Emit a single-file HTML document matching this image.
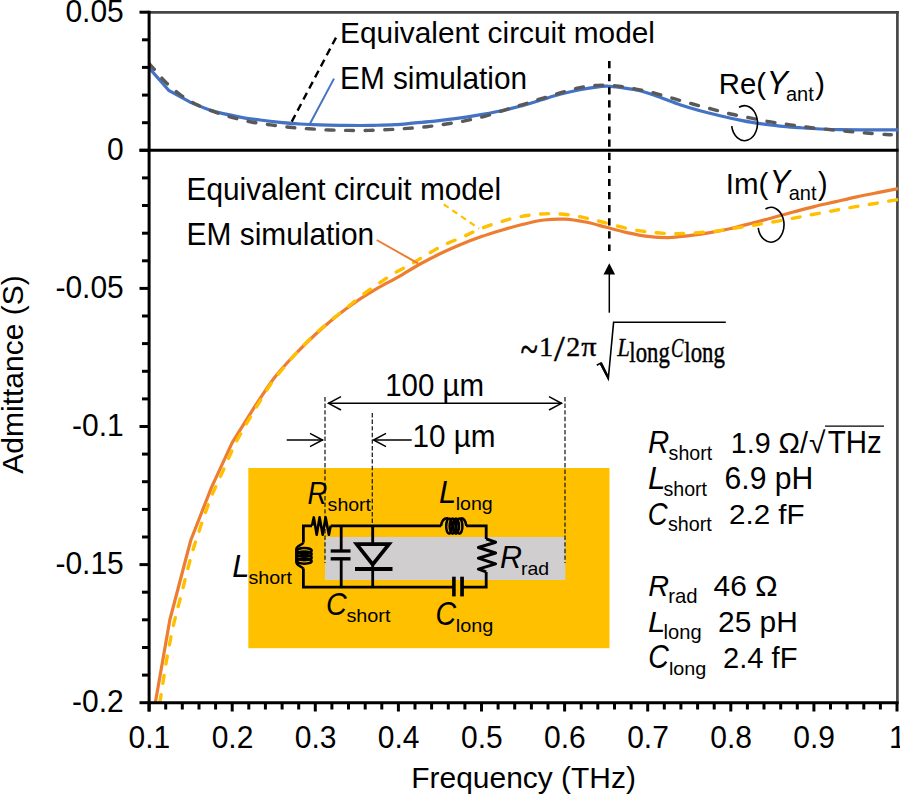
<!DOCTYPE html><html><head><meta charset="utf-8"><style>html,body{margin:0;padding:0;background:#fff;width:900px;height:794px;overflow:hidden}svg{display:block}text{font-family:"Liberation Sans", sans-serif}</style></head><body>
<svg width="900" height="794" viewBox="0 0 900 794">
<defs><clipPath id="pa"><rect x="149" y="12" width="749" height="691"/></clipPath></defs>
<rect x="248.3" y="468" width="361.2" height="180.2" fill="#FFC000"/>
<rect x="325" y="537" width="240.3" height="43" fill="#D0CECE"/>
<line x1="149" y1="12.3" x2="898.7" y2="12.3" stroke="#464646" stroke-width="2.7"/>
<line x1="897.4" y1="11" x2="897.4" y2="703" stroke="#464646" stroke-width="2.7"/>
<g clip-path="url(#pa)" fill="none" stroke-linejoin="round">
<path d="M149.1,738.4 L169.8,620.0 L190.7,540.5 L211.4,487.6 L232.2,442.6 L253.0,409.3 C256.5,404.2 266.9,387.6 273.8,378.5 C280.7,369.4 287.6,362.3 294.5,355.0 C301.4,347.7 308.4,340.9 315.3,334.5 C322.2,328.1 329.2,322.1 336.1,316.5 C343.0,310.9 349.9,305.9 356.8,301.2 C363.7,296.5 370.7,292.3 377.6,288.2 C384.5,284.1 391.5,280.8 398.4,276.8 C405.3,272.9 412.3,268.3 419.2,264.5 C426.1,260.7 433.1,257.1 440.0,253.8 C446.9,250.5 453.8,247.5 460.7,244.6 C467.6,241.7 474.6,239.0 481.5,236.6 C488.4,234.2 495.4,232.1 502.3,230.0 C509.2,227.9 516.2,226.0 523.1,224.3 C530.0,222.6 537.0,220.8 543.9,220.0 C550.8,219.2 557.8,218.9 564.7,219.2 C571.6,219.5 578.5,220.7 585.4,222.0 C592.3,223.3 599.3,225.5 606.2,227.3 C613.1,229.1 620.1,231.1 627.0,232.6 C633.9,234.1 640.9,235.6 647.8,236.4 C654.7,237.2 661.7,237.7 668.6,237.6 C675.5,237.5 682.5,236.4 689.4,235.6 C696.3,234.8 703.2,233.9 710.1,232.7 C717.0,231.5 724.0,230.1 730.9,228.5 C737.8,226.9 744.8,225.0 751.7,223.2 C758.6,221.4 765.6,219.6 772.5,217.7 C779.4,215.8 786.4,213.8 793.3,212.0 C800.2,210.2 807.2,208.3 814.1,206.6 C821.0,204.9 828.0,203.5 834.9,201.9 C841.8,200.3 848.7,198.6 855.6,197.1 C862.5,195.6 869.2,194.3 876.4,192.9 C883.6,191.5 895.2,189.2 899.0,188.5" stroke="#ED7D31" stroke-width="3.2"/>
<path d="M156.5,722.0 C157.1,718.8 158.8,708.9 159.8,702.5 C160.9,696.1 161.8,690.1 162.8,683.7 C163.8,677.3 164.9,670.0 165.9,664.0 C166.9,658.0 167.7,653.5 168.9,647.4 C170.1,641.3 171.5,633.8 172.9,627.5 C174.3,621.2 175.9,615.6 177.4,609.5 C178.9,603.4 180.6,597.3 182.2,591.0 C183.8,584.7 185.4,578.0 187.1,571.6 C188.8,565.2 190.3,558.8 192.1,552.7 C193.9,546.6 195.6,541.7 197.8,535.0 C200.0,528.3 202.8,519.6 205.3,512.7 C207.8,505.8 210.3,499.1 212.6,493.6 C214.9,488.1 216.7,484.9 219.1,479.5 C221.5,474.1 224.5,467.4 227.2,461.4 C229.9,455.4 232.3,449.5 235.2,443.7 C238.1,437.9 241.2,432.8 244.8,426.6 C248.4,420.4 252.3,413.7 256.6,406.7 C260.9,399.7 265.7,391.4 270.5,384.5 C275.3,377.6 280.5,371.5 285.5,365.5 C290.5,359.5 295.5,353.8 300.5,348.5 C305.5,343.2 310.6,338.3 315.6,333.6 C320.6,328.9 325.7,324.7 330.7,320.5 C335.7,316.3 340.6,312.7 345.8,308.5 C351.0,304.3 356.8,299.3 362.0,295.3 C367.2,291.3 371.8,288.2 377.0,284.7 C382.2,281.1 387.5,277.3 393.0,274.0 C398.5,270.7 404.3,267.9 410.0,264.7 C415.7,261.4 421.3,257.8 427.0,254.5 C432.7,251.2 438.1,247.9 444.0,245.0 C449.9,242.1 456.7,239.7 462.7,237.0 C468.7,234.3 474.0,231.4 480.0,229.0 C486.0,226.6 492.5,224.2 498.7,222.3 C504.9,220.4 511.0,218.6 517.3,217.3 C523.6,216.0 530.2,214.9 536.7,214.3 C543.2,213.7 549.5,213.4 556.0,213.7 C562.5,214.0 569.5,214.9 576.0,216.0 C582.5,217.1 588.5,218.5 594.7,220.0 C600.9,221.5 607.0,223.4 613.3,225.0 C619.6,226.6 626.2,228.5 632.7,229.7 C639.2,230.9 645.6,231.6 652.0,232.3 C658.4,233.0 665.8,233.5 671.3,233.7 C676.8,233.9 678.7,233.7 685.3,233.4 C691.9,233.1 703.4,232.4 710.7,231.7 C718.0,231.0 722.9,230.0 729.3,229.0 C735.7,228.0 742.7,227.0 749.3,225.9 C755.9,224.8 761.9,223.9 768.7,222.7 C775.5,221.5 783.6,220.1 790.0,218.9 C796.4,217.7 801.0,216.7 807.1,215.5 C813.2,214.3 820.3,213.2 826.7,212.0 C833.1,210.8 839.2,209.6 845.6,208.4 C852.0,207.2 858.7,206.2 865.2,205.1 C871.7,204.0 879.1,202.8 884.7,201.8 C890.3,200.9 896.6,199.8 899.0,199.4" stroke="#FFC000" stroke-width="3.4" stroke-dasharray="8,11.6" stroke-linecap="round"/>
<path d="M149.4,68.2 L169.1,90.7 L190.2,102.2 C193.8,103.6 203.4,108.1 211.7,110.6 C220.0,113.1 231.9,115.5 240.0,117.1 C248.1,118.7 253.3,119.1 260.0,120.0 C266.7,120.9 273.3,121.7 280.0,122.4 C286.7,123.1 293.3,123.6 300.0,124.0 C306.7,124.4 313.3,124.7 320.0,124.9 C326.7,125.1 333.3,125.2 340.0,125.3 C346.7,125.4 354.2,125.5 360.0,125.5 C365.8,125.5 369.2,125.4 375.0,125.3 C380.8,125.2 388.3,125.1 395.0,124.7 C401.7,124.3 408.3,123.5 415.0,122.9 C421.7,122.3 428.3,121.8 435.0,121.1 C441.7,120.4 448.3,119.6 455.0,118.7 C461.7,117.8 467.5,117.0 475.0,115.7 C482.5,114.4 492.5,112.6 500.0,111.0 C507.5,109.4 513.3,108.1 520.0,106.3 C526.7,104.5 533.3,102.3 540.0,100.3 C546.7,98.3 553.3,96.1 560.0,94.3 C566.7,92.5 573.3,91.0 580.0,89.7 C586.7,88.4 595.3,87.2 600.0,86.6 C604.7,86.0 604.7,85.9 608.0,86.1 C611.3,86.2 614.7,86.7 620.0,87.5 C625.3,88.3 633.3,89.1 640.0,90.7 C646.7,92.3 653.3,95.0 660.0,97.3 C666.7,99.6 673.3,102.5 680.0,104.7 C686.7,106.9 693.3,108.9 700.0,110.7 C706.7,112.5 713.3,114.1 720.0,115.7 C726.7,117.3 733.3,118.8 740.0,120.1 C746.7,121.4 753.3,122.7 760.0,123.7 C766.7,124.7 773.3,125.4 780.0,126.1 C786.7,126.8 793.3,127.2 800.0,127.7 C806.7,128.2 813.3,128.7 820.0,129.0 C826.7,129.3 833.3,129.6 840.0,129.7 C846.7,129.8 850.2,129.8 860.0,129.8 C869.8,129.8 892.5,129.8 899.0,129.8" stroke="#4472C4" stroke-width="3.2"/>
<path d="M149.0,63.5 C150.0,64.6 152.3,67.0 155.0,70.0 C157.7,73.0 160.9,77.5 165.0,81.5 C169.1,85.5 174.2,90.2 179.4,94.0 C184.6,97.8 190.2,101.3 196.0,104.3 C201.8,107.2 207.8,109.5 213.9,111.7 C220.0,113.9 226.6,115.9 232.8,117.6 C239.0,119.3 245.0,120.8 251.3,122.0 C257.6,123.2 264.2,124.0 270.7,124.9 C277.1,125.8 283.6,126.6 290.0,127.3 C296.4,128.0 302.8,128.4 309.3,128.8 C315.9,129.2 322.7,129.7 329.3,130.0 C335.9,130.3 342.2,130.3 348.7,130.4 C355.2,130.5 361.7,130.5 368.3,130.4 C374.9,130.3 381.7,129.9 388.3,129.6 C394.9,129.3 401.2,128.9 407.7,128.4 C414.1,127.9 420.6,127.4 427.0,126.7 C433.4,126.0 439.9,125.0 446.3,124.0 C452.8,123.0 459.3,122.0 465.7,120.7 C472.1,119.4 478.3,118.0 484.7,116.3 C491.1,114.6 497.7,112.2 504.0,110.3 C510.3,108.3 516.5,106.5 522.7,104.6 C528.9,102.7 535.1,100.6 541.3,98.7 C547.5,96.8 553.8,94.8 560.0,93.0 C566.2,91.2 572.5,89.2 578.7,87.9 C584.9,86.6 591.1,85.7 597.3,85.4 C603.5,85.1 609.5,85.3 616.0,85.9 C622.5,86.5 629.5,87.9 636.0,89.1 C642.5,90.3 649.0,91.7 655.3,93.3 C661.6,94.9 667.8,96.9 674.0,98.7 C680.2,100.5 686.4,102.3 692.7,104.0 C699.0,105.7 705.7,107.4 712.0,109.1 C718.3,110.8 724.4,112.5 730.7,114.0 C737.0,115.5 743.6,116.6 750.0,117.9 C756.4,119.2 762.8,120.6 769.3,121.7 C775.8,122.8 782.2,123.7 788.7,124.6 C795.2,125.5 801.6,126.5 808.0,127.3 C814.4,128.1 820.8,128.7 827.3,129.4 C833.8,130.1 840.2,130.7 846.7,131.3 C853.2,131.9 859.8,132.5 866.3,133.0 C872.8,133.5 881.8,134.2 886.0,134.5 C890.2,134.8 890.4,134.8 891.3,134.8" stroke="#595959" stroke-width="3.4" stroke-dasharray="8,11.6" stroke-linecap="round"/>
</g>
<g stroke="#000" stroke-width="3">
<line x1="149.1" y1="10.7" x2="149.1" y2="711.5"/>
<line x1="139.5" y1="150.3" x2="898.5" y2="150.3"/>
<line x1="147.6" y1="702.7" x2="898.5" y2="702.7"/>
<line x1="139.5" y1="12.2" x2="149" y2="12.2"/>
<line x1="142.0" y1="39.8" x2="149" y2="39.8"/>
<line x1="142.0" y1="67.4" x2="149" y2="67.4"/>
<line x1="142.0" y1="95.1" x2="149" y2="95.1"/>
<line x1="142.0" y1="122.7" x2="149" y2="122.7"/>
<line x1="139.5" y1="150.3" x2="149" y2="150.3"/>
<line x1="142.0" y1="177.9" x2="149" y2="177.9"/>
<line x1="142.0" y1="205.5" x2="149" y2="205.5"/>
<line x1="142.0" y1="233.2" x2="149" y2="233.2"/>
<line x1="142.0" y1="260.8" x2="149" y2="260.8"/>
<line x1="139.5" y1="288.4" x2="149" y2="288.4"/>
<line x1="142.0" y1="316.0" x2="149" y2="316.0"/>
<line x1="142.0" y1="343.6" x2="149" y2="343.6"/>
<line x1="142.0" y1="371.3" x2="149" y2="371.3"/>
<line x1="142.0" y1="398.9" x2="149" y2="398.9"/>
<line x1="139.5" y1="426.5" x2="149" y2="426.5"/>
<line x1="142.0" y1="454.1" x2="149" y2="454.1"/>
<line x1="142.0" y1="481.7" x2="149" y2="481.7"/>
<line x1="142.0" y1="509.4" x2="149" y2="509.4"/>
<line x1="142.0" y1="537.0" x2="149" y2="537.0"/>
<line x1="139.5" y1="564.6" x2="149" y2="564.6"/>
<line x1="142.0" y1="592.2" x2="149" y2="592.2"/>
<line x1="142.0" y1="619.8" x2="149" y2="619.8"/>
<line x1="142.0" y1="647.5" x2="149" y2="647.5"/>
<line x1="142.0" y1="675.1" x2="149" y2="675.1"/>
<line x1="139.5" y1="702.7" x2="149" y2="702.7"/>
<line x1="149.1" y1="702" x2="149.1" y2="711.5"/>
<line x1="165.7" y1="702" x2="165.7" y2="709.5"/>
<line x1="182.3" y1="702" x2="182.3" y2="709.5"/>
<line x1="199.0" y1="702" x2="199.0" y2="709.5"/>
<line x1="215.6" y1="702" x2="215.6" y2="709.5"/>
<line x1="232.2" y1="702" x2="232.2" y2="711.5"/>
<line x1="248.8" y1="702" x2="248.8" y2="709.5"/>
<line x1="265.4" y1="702" x2="265.4" y2="709.5"/>
<line x1="282.1" y1="702" x2="282.1" y2="709.5"/>
<line x1="298.7" y1="702" x2="298.7" y2="709.5"/>
<line x1="315.3" y1="702" x2="315.3" y2="711.5"/>
<line x1="331.9" y1="702" x2="331.9" y2="709.5"/>
<line x1="348.5" y1="702" x2="348.5" y2="709.5"/>
<line x1="365.2" y1="702" x2="365.2" y2="709.5"/>
<line x1="381.8" y1="702" x2="381.8" y2="709.5"/>
<line x1="398.4" y1="702" x2="398.4" y2="711.5"/>
<line x1="415.0" y1="702" x2="415.0" y2="709.5"/>
<line x1="431.6" y1="702" x2="431.6" y2="709.5"/>
<line x1="448.3" y1="702" x2="448.3" y2="709.5"/>
<line x1="464.9" y1="702" x2="464.9" y2="709.5"/>
<line x1="481.5" y1="702" x2="481.5" y2="711.5"/>
<line x1="498.1" y1="702" x2="498.1" y2="709.5"/>
<line x1="514.7" y1="702" x2="514.7" y2="709.5"/>
<line x1="531.4" y1="702" x2="531.4" y2="709.5"/>
<line x1="548.0" y1="702" x2="548.0" y2="709.5"/>
<line x1="564.6" y1="702" x2="564.6" y2="711.5"/>
<line x1="581.2" y1="702" x2="581.2" y2="709.5"/>
<line x1="597.8" y1="702" x2="597.8" y2="709.5"/>
<line x1="614.5" y1="702" x2="614.5" y2="709.5"/>
<line x1="631.1" y1="702" x2="631.1" y2="709.5"/>
<line x1="647.7" y1="702" x2="647.7" y2="711.5"/>
<line x1="664.3" y1="702" x2="664.3" y2="709.5"/>
<line x1="680.9" y1="702" x2="680.9" y2="709.5"/>
<line x1="697.6" y1="702" x2="697.6" y2="709.5"/>
<line x1="714.2" y1="702" x2="714.2" y2="709.5"/>
<line x1="730.8" y1="702" x2="730.8" y2="711.5"/>
<line x1="747.4" y1="702" x2="747.4" y2="709.5"/>
<line x1="764.0" y1="702" x2="764.0" y2="709.5"/>
<line x1="780.7" y1="702" x2="780.7" y2="709.5"/>
<line x1="797.3" y1="702" x2="797.3" y2="709.5"/>
<line x1="813.9" y1="702" x2="813.9" y2="711.5"/>
<line x1="830.5" y1="702" x2="830.5" y2="709.5"/>
<line x1="847.1" y1="702" x2="847.1" y2="709.5"/>
<line x1="863.8" y1="702" x2="863.8" y2="709.5"/>
<line x1="880.4" y1="702" x2="880.4" y2="709.5"/>
<line x1="897.0" y1="702" x2="897.0" y2="711.5"/>
</g>
<g font-size="30" fill="#000">
<text transform="translate(123.8,21.8) scale(1,1.05)" text-anchor="end">0.05</text>
<text transform="translate(123.8,159.9) scale(1,1.05)" text-anchor="end">0</text>
<text transform="translate(123.8,298.0) scale(1,1.05)" text-anchor="end">-0.05</text>
<text transform="translate(123.8,436.1) scale(1,1.05)" text-anchor="end">-0.1</text>
<text transform="translate(123.8,574.2) scale(1,1.05)" text-anchor="end">-0.15</text>
<text transform="translate(123.8,712.3) scale(1,1.05)" text-anchor="end">-0.2</text>
<text transform="translate(149.4,747.8) scale(1,1.05)" text-anchor="middle">0.1</text>
<text transform="translate(232.5,747.8) scale(1,1.05)" text-anchor="middle">0.2</text>
<text transform="translate(315.6,747.8) scale(1,1.05)" text-anchor="middle">0.3</text>
<text transform="translate(398.7,747.8) scale(1,1.05)" text-anchor="middle">0.4</text>
<text transform="translate(481.8,747.8) scale(1,1.05)" text-anchor="middle">0.5</text>
<text transform="translate(564.9,747.8) scale(1,1.05)" text-anchor="middle">0.6</text>
<text transform="translate(648.0,747.8) scale(1,1.05)" text-anchor="middle">0.7</text>
<text transform="translate(731.1,747.8) scale(1,1.05)" text-anchor="middle">0.8</text>
<text transform="translate(814.2,747.8) scale(1,1.05)" text-anchor="middle">0.9</text>
<text transform="translate(897.3,747.8) scale(1,1.05)" text-anchor="middle">1</text>
<text transform="translate(22.6,473.7) rotate(-90)">Admittance (S)</text>
</g>
<g font-size="30" fill="#000">
<text transform="matrix(0.9939,0,0,0.9909,340.11,42.9)" style="font-family:'Liberation Sans';font-style:normal;font-size:30px" fill="#000">Equivalent circuit model</text>
<text transform="matrix(0.9935,0,0,1.0182,340.01,88.8)" style="font-family:'Liberation Sans';font-style:normal;font-size:30px" fill="#000">EM simulation</text>
<text transform="matrix(0.993,0,0,1.0227,186.61,199.8)" style="font-family:'Liberation Sans';font-style:normal;font-size:30px" fill="#000">Equivalent circuit model</text>
<text transform="matrix(0.9962,0,0,1.0318,186.61,245.4)" style="font-family:'Liberation Sans';font-style:normal;font-size:30px" fill="#000">EM simulation</text>
<text transform="matrix(0.9986,0,0,1.0045,411.3,787.5)" style="font-family:'Liberation Sans';font-style:normal;font-size:30px" fill="#000">Frequency (THz)</text>
</g>
<line x1="336" y1="37.6" x2="289.6" y2="125.8" stroke="#000" stroke-width="2.4" stroke-dasharray="7.5,5"/>
<line x1="334" y1="78.6" x2="309.8" y2="124" stroke="#4472C4" stroke-width="2"/>
<line x1="443.7" y1="204.3" x2="479.1" y2="228.6" stroke="#FFC000" stroke-width="2.2" stroke-dasharray="6,4.5"/>
<line x1="376.7" y1="240" x2="418" y2="263.3" stroke="#ED7D31" stroke-width="2"/>
<g font-size="30" fill="#000">
<text transform="matrix(0.9783,0,0,1.0107,718.74,93.94)" style="font-family:'Liberation Sans';font-style:normal;font-size:30px" fill="#000">Re(</text>
<text transform="matrix(1.0526,0,0,1.1,766.84,93.7)" style="font-family:'Liberation Sans';font-style:italic;font-size:30px" fill="#000">Y</text>
<text transform="matrix(1.0,0,0,1.0538,786.0,101)" style="font-family:'Liberation Sans';font-style:normal;font-size:20px" fill="#000">ant</text>
<text transform="matrix(1.0,0,0,1.0107,815.0,93.94)" style="font-family:'Liberation Sans';font-style:normal;font-size:30px" fill="#000">)</text>
<text transform="matrix(0.9825,0,0,1.0143,725.75,193.61)" style="font-family:'Liberation Sans';font-style:normal;font-size:30px" fill="#000">Im(</text>
<text transform="matrix(1.0158,0,0,1.1,769.65,193.3)" style="font-family:'Liberation Sans';font-style:italic;font-size:30px" fill="#000">Y</text>
<text transform="matrix(1.0,0,0,1.0231,788.7,200.3)" style="font-family:'Liberation Sans';font-style:normal;font-size:20px" fill="#000">ant</text>
<text transform="matrix(0.9571,0,0,1.025,818.04,193.55)" style="font-family:'Liberation Sans';font-style:normal;font-size:30px" fill="#000">)</text>
</g>
<path d="M739.0,107.3 A13.0,17.5 0 1 1 731.7,126.2" fill="none" stroke="#000" stroke-width="1.6"/>
<path d="M765.5,209.0 A13.0,17.4 0 1 1 758.2,227.8" fill="none" stroke="#000" stroke-width="1.6"/>
<line x1="609.3" y1="61" x2="609.3" y2="251" stroke="#000" stroke-width="2.6" stroke-dasharray="7.2,5.9"/>
<line x1="609.3" y1="312.7" x2="609.3" y2="272" stroke="#000" stroke-width="1.5"/>
<path d="M609.3,263.3 L603.5,274.5 L615.1,274.5 Z" fill="#000"/>
<g stroke="#000" stroke-width="0.35">
<text transform="matrix(1.1923,0,0,1.6,520.41,362.6)" style="font-family:'Liberation Serif';font-style:normal;font-size:27px" fill="#000">~</text>
<text transform="matrix(1.05,0,0,1.0111,539.1,356.4)" style="font-family:'Liberation Serif';font-style:normal;font-size:27px" fill="#000">1</text>
<text transform="matrix(1.425,0,0,1.3167,554.0,361.4)" style="font-family:'Liberation Serif';font-style:normal;font-size:27px" fill="#000">/</text>
<text transform="matrix(1.0364,0,0,1.0111,566.16,356.4)" style="font-family:'Liberation Serif';font-style:normal;font-size:27px" fill="#000">2</text>
<text transform="matrix(1.1231,0,0,0.9769,581.3,356.4)" style="font-family:'Liberation Serif';font-style:normal;font-size:27px" fill="#000">π</text>
<text transform="matrix(0.8429,0,0,0.9444,617.2,356.2)" style="font-family:'Liberation Serif';font-style:italic;font-size:27px" fill="#000">L</text>
<text transform="matrix(1.0342,0,0,1.3571,629.37,361.5)" style="font-family:'Liberation Serif';font-style:normal;font-size:22px" fill="#000">long</text>
<text transform="matrix(0.6941,0,0,1.0,671.01,356.5)" style="font-family:'Liberation Serif';font-style:italic;font-size:27px" fill="#000">C</text>
<text transform="matrix(1.0368,0,0,1.3571,684.36,361.5)" style="font-family:'Liberation Serif';font-style:normal;font-size:22px" fill="#000">long</text>
</g>
<path d="M596.8,365.2 L600.3,363.3 L608.3,378.8 L613.6,322.3 L725.8,322.3" fill="none" stroke="#000" stroke-width="1.6" stroke-linejoin="miter"/>
<path d="M599.4,363.2 L601.8,362 L609,376.5 L608,379.5 Z" fill="#000"/>
<g stroke="#222" stroke-width="1.3" stroke-dasharray="4.4,2.2">
<line x1="325" y1="397" x2="325" y2="563"/>
<line x1="372.3" y1="413" x2="372.3" y2="540"/>
<line x1="565" y1="397" x2="565" y2="563"/>
</g>
<g stroke="#000" stroke-width="1.5" fill="none">
<line x1="328" y1="403.3" x2="562" y2="403.3"/>
<polyline points="341,396.7 328.5,403.3 341,410"/>
<polyline points="549,396.7 561.5,403.3 549,410"/>
<line x1="286.7" y1="440" x2="323" y2="440"/>
<polyline points="310,433.3 322.5,440 310,446.7"/>
<line x1="374" y1="440" x2="411.7" y2="440"/>
<polyline points="386,433.3 373.5,440 386,446.7"/>
</g>
<g font-size="30" fill="#000">
<text transform="matrix(0.9825,0,0,1.07,385.14,396.3)" style="font-family:'Liberation Sans';font-style:normal;font-size:30px" fill="#000">100 µm</text>
<text transform="matrix(0.99,0,0,1.07,412.42,446.7)" style="font-family:'Liberation Sans';font-style:normal;font-size:30px" fill="#000">10 µm</text>
</g>
<g stroke="#000" stroke-width="2.8" fill="none" stroke-linejoin="miter" stroke-linecap="butt">
<polyline points="312,525.8 303.4,525.8 303.4,542.6"/>
<polyline points="303.4,568.4 303.4,587.2 453,587.2"/>
<line x1="330.7" y1="525.8" x2="441.2" y2="525.8"/>
<polyline points="466.1,525.8 486.2,525.8 486.2,538.9"/>
<polyline points="486.2,571.9 486.2,587.2 462,587.2"/>
<polyline points="312.0,525.8 313.8,517.4 316.7,534.8 319.6,517.4 322.7,534.8 325.6,517.4 328.9,534.8 330.7,525.8" stroke-width="2.6" stroke-linejoin="round"/>
<polyline points="486.2,538.9 495.6,542.2 478.4,547.5 495.6,553.0 478.4,558.2 495.6,563.9 478.4,569.1 486.2,571.9" stroke-width="3" stroke-linejoin="round"/>
<line x1="341.2" y1="525.8" x2="341.2" y2="551"/>
<line x1="341.2" y1="558.8" x2="341.2" y2="587.2"/>
<line x1="330.7" y1="551" x2="350.5" y2="551" stroke-width="3.3"/>
<line x1="330.7" y1="558.8" x2="350.5" y2="558.8" stroke-width="3.4"/>
<line x1="372.7" y1="525.8" x2="372.7" y2="587.2"/>
<path d="M356.6,544.1 L389,544.1 L372.7,564.5 Z" fill="#D0CECE" stroke-width="3.7"/>
<line x1="355" y1="568.9" x2="392.5" y2="568.9" stroke-width="4"/>
</g>
<rect x="452.1" y="576.7" width="3.6" height="19.7" fill="#000"/>
<rect x="460.2" y="576.7" width="3.7" height="19.7" fill="#000"/>
<g stroke="#000" stroke-width="2.5" fill="none">
<path d="M441,525.8 C441.8,520 444.5,517.8 448,518.2 M460.5,518.2 C464,517.8 465.6,520 466.3,525.8"/>
<ellipse cx="449.2" cy="526.2" rx="3.0" ry="7.6"/>
<ellipse cx="452.6" cy="526.2" rx="3.0" ry="7.6"/>
<ellipse cx="456.0" cy="526.2" rx="3.0" ry="7.6"/>
<ellipse cx="459.4" cy="526.2" rx="3.0" ry="7.6"/>
<path d="M303.4,542.4 C302,545.6 296.5,545 296.3,549.5 L296.3,562 C296.5,566.5 302,565.8 303.4,568.6"/>
<ellipse cx="304.3" cy="550.6" rx="7.4" ry="2.6"/>
<ellipse cx="304.3" cy="554.1" rx="7.4" ry="2.6"/>
<ellipse cx="304.3" cy="557.6" rx="7.4" ry="2.6"/>
<ellipse cx="304.3" cy="561.1" rx="7.4" ry="2.6"/>
</g>
<g fill="#000">
<text transform="matrix(0.915,0,0,1.02,307.48,503.8)" style="font-family:'Liberation Sans';font-style:italic;font-size:30px" fill="#000">R</text>
<text transform="matrix(1.0286,0,0,1.075,232.37,576.8)" style="font-family:'Liberation Sans';font-style:italic;font-size:30px" fill="#000">L</text>
<text transform="matrix(0.96,0,0,1.0625,325.88,615.0)" style="font-family:'Liberation Sans';font-style:italic;font-size:30px" fill="#000">C</text>
<text transform="matrix(1.0286,0,0,1.065,439.07,502.5)" style="font-family:'Liberation Sans';font-style:italic;font-size:30px" fill="#000">L</text>
<text transform="matrix(1.015,0,0,1.075,499.98,567.5)" style="font-family:'Liberation Sans';font-style:italic;font-size:30px" fill="#000">R</text>
<text transform="matrix(0.95,0,0,1.08,435.5,624.8)" style="font-family:'Liberation Sans';font-style:italic;font-size:30px" fill="#000">C</text>
<text transform="matrix(0.9773,0,0,0.96,327.62,511.3)" style="font-family:'Liberation Sans';font-style:normal;font-size:20px" fill="#000">short</text>
<text transform="matrix(0.9818,0,0,0.9133,248.42,583.8)" style="font-family:'Liberation Sans';font-style:normal;font-size:20px" fill="#000">short</text>
<text transform="matrix(0.9909,0,0,0.9467,346.41,622.1)" style="font-family:'Liberation Sans';font-style:normal;font-size:20px" fill="#000">short</text>
<text transform="matrix(0.9806,0,0,0.92,455.72,509.8)" style="font-family:'Liberation Sans';font-style:normal;font-size:20px" fill="#000">long</text>
<text transform="matrix(0.9741,0,0,0.9,521.03,574.7)" style="font-family:'Liberation Sans';font-style:normal;font-size:20px" fill="#000">rad</text>
<text transform="matrix(0.9944,0,0,0.9267,455.81,632.2)" style="font-family:'Liberation Sans';font-style:normal;font-size:20px" fill="#000">long</text>
</g>
<g fill="#000">
<text transform="matrix(0.98,0,0,1.055,648.12,453.1)" style="font-family:'Liberation Sans';font-style:italic;font-size:30px" fill="#000">R</text>
<text transform="matrix(1.0429,0,0,1.05,647.96,489)" style="font-family:'Liberation Sans';font-style:italic;font-size:30px" fill="#000">L</text>
<text transform="matrix(0.92,0,0,1.05,647.76,524.6)" style="font-family:'Liberation Sans';font-style:italic;font-size:30px" fill="#000">C</text>
<text transform="matrix(0.96,0,0,1.01,648.14,596.2)" style="font-family:'Liberation Sans';font-style:italic;font-size:30px" fill="#000">R</text>
<text transform="matrix(1.0357,0,0,1.01,648.06,632)" style="font-family:'Liberation Sans';font-style:italic;font-size:30px" fill="#000">L</text>
<text transform="matrix(0.95,0,0,1.08,648.2,667.8)" style="font-family:'Liberation Sans';font-style:italic;font-size:30px" fill="#000">C</text>
<text transform="matrix(0.9795,0,0,0.98,668.62,460)" style="font-family:'Liberation Sans';font-style:normal;font-size:20px" fill="#000">short</text>
<text transform="matrix(0.9818,0,0,0.9818,663.42,496)" style="font-family:'Liberation Sans';font-style:normal;font-size:20px" fill="#000">short</text>
<text transform="matrix(0.9864,0,0,0.9864,668.01,531)" style="font-family:'Liberation Sans';font-style:normal;font-size:20px" fill="#000">short</text>
<text transform="matrix(1.0148,0,0,1.0148,668.29,602.8)" style="font-family:'Liberation Sans';font-style:normal;font-size:20px" fill="#000">rad</text>
<text transform="matrix(1.0056,0,0,1.0056,663.59,639)" style="font-family:'Liberation Sans';font-style:normal;font-size:20px" fill="#000">long</text>
<text transform="matrix(0.9889,0,0,0.9333,668.91,674.8)" style="font-family:'Liberation Sans';font-style:normal;font-size:20px" fill="#000">long</text>
<text transform="matrix(0.9557,0,0,0.9557,730.79,452.9)" style="font-family:'Liberation Sans';font-style:normal;font-size:30px" fill="#000">1.9 Ω/</text>
<text transform="matrix(0.983,0,0,1.05,827.72,452.9)" style="font-family:'Liberation Sans';font-style:normal;font-size:30px" fill="#000">THz</text>
<text transform="matrix(1.0047,0,0,1.07,724.6,489)" style="font-family:'Liberation Sans';font-style:normal;font-size:30px" fill="#000">6.9 pH</text>
<text transform="matrix(0.9867,0,0,0.9455,729.01,524.4)" style="font-family:'Liberation Sans';font-style:normal;font-size:30px" fill="#000">2.2 fF</text>
<text transform="matrix(0.9968,0,0,1.01,713.6,596.2)" style="font-family:'Liberation Sans';font-style:normal;font-size:30px" fill="#000">46 Ω</text>
<text transform="matrix(0.9974,0,0,0.9974,718.0,632)" style="font-family:'Liberation Sans';font-style:normal;font-size:30px" fill="#000">25 pH</text>
<text transform="matrix(0.9707,0,0,0.9707,723.03,668)" style="font-family:'Liberation Sans';font-style:normal;font-size:30px" fill="#000">2.4 fF</text>
<text transform="translate(809,452.9)" style="font-family:'Liberation Sans';font-size:30px">√</text>
<line x1="825" y1="426.2" x2="884" y2="426.2" stroke="#000" stroke-width="1.3"/>
</g>
</svg></body></html>
